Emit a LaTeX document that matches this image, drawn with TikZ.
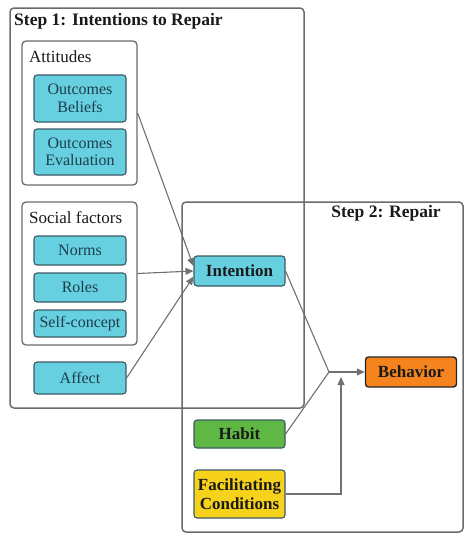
\documentclass[tikz,border=0pt]{standalone}
\usepackage{fontspec}
\setmainfont{Liberation Serif}
\usetikzlibrary{arrows.meta}
\definecolor{cyanbox}{HTML}{66CFE0}
\definecolor{cyanedge}{HTML}{3C5A64}
\definecolor{cyantext}{HTML}{1E3E4C}
\definecolor{framegray}{HTML}{6B6B6B}
\definecolor{arrowgray}{HTML}{707070}
\definecolor{greenbox}{HTML}{5EB843}
\definecolor{yellowbox}{HTML}{F7D21A}
\definecolor{orangebox}{HTML}{F5841F}
\definecolor{darktext}{HTML}{1A1A1A}
\tikzset{
  container/.style={draw=framegray, line width=1.5pt, rounded corners=4pt, inner sep=0pt},
  group/.style={draw=framegray, line width=1.3pt, rounded corners=4pt, inner sep=0pt},
  cyanstep/.style={draw=cyanedge, fill=cyanbox, line width=1.1pt, rounded corners=3pt,
    minimum width=92pt, text width=90pt, align=center, inner sep=0pt,
    font=\fontsize{16}{17.5}\selectfont, text=cyantext},
  boldstep/.style={draw=cyanedge, line width=1.1pt, rounded corners=3pt,
    minimum width=91pt, text width=90pt, align=center, inner sep=0pt,
    font=\fontsize{17}{19}\selectfont\bfseries, text=darktext},
  steptitle/.style={font=\fontsize{17.5}{20}\selectfont\bfseries, text=darktext, inner sep=0pt},
  grouptitle/.style={font=\fontsize{17}{20}\selectfont, text=darktext, inner sep=0pt, anchor=west},
  conn/.style={draw=arrowgray, line width=1.1pt},
  arr/.style={conn, -{Triangle[length=8pt,width=7pt]}}
}
\begin{document}
\begin{tikzpicture}[x=1pt,y=-1pt]
\useasboundingbox (0,0) rectangle (474,546);
% containers
\node[container, minimum width=294pt, minimum height=400pt] (s1) at (157,208) {};
\node[container, minimum width=281pt, minimum height=330pt] (s2) at (322.5,367) {};
\node[steptitle, anchor=west] (s1t) at (14,21) {Step 1: Intentions to Repair};
\node[steptitle] (s2t) at (386,213) {Step 2: Repair};
% groups
\node[group, minimum width=115pt, minimum height=144pt] (att) at (79.5,113) {};
\node[grouptitle] (attt) at (29,57) {Attitudes};
\node[group, minimum width=115pt, minimum height=143pt] (soc) at (79.5,273.5) {};
\node[grouptitle] (soct) at (29,218) {Social factors};
% cyan nodes
\node[cyanstep, minimum height=47pt] (ob) at (80,98.5) {Outcomes\\Beliefs};
\node[cyanstep, minimum height=46pt] (oe) at (80,152) {Outcomes\\Evaluation};
\node[cyanstep, minimum height=29pt] (norms) at (80,250.5) {Norms};
\node[cyanstep, minimum height=29pt] (roles) at (80,287.5) {Roles};
\node[cyanstep, minimum height=27pt] (self) at (80,323.5) {Self-concept};
\node[cyanstep, minimum height=32pt] (aff) at (80,378) {Affect};
% step 2 nodes
\node[boldstep, fill=cyanbox, minimum height=30pt] (int) at (239.5,271) {Intention};
\node[boldstep, fill=orangebox, draw=black!85, line width=1.4pt, minimum height=30pt] (beh) at (411,372) {Behavior};
\node[boldstep, fill=greenbox, minimum height=28pt] (hab) at (239.5,434) {Habit};
\node[boldstep, fill=yellowbox, minimum height=48pt] (fc) at (239.5,494) {Facilitating\\Conditions};
% connectors
\coordinate (j) at (329,372);
\coordinate (fcup) at (341,377);
\draw[arr] (att.east) -- (int.174);
\draw[arr] (soc.east) -- (int.west);
\draw[arr] (aff.east) -- (int.187);
\draw[conn] (int.east) -- (j);
\draw[conn] (hab.east) -- (j);
\draw[arr] (j) -- (beh.west);
\draw[arr] (fc.east) -| (fcup);
\end{tikzpicture}
\end{document}
